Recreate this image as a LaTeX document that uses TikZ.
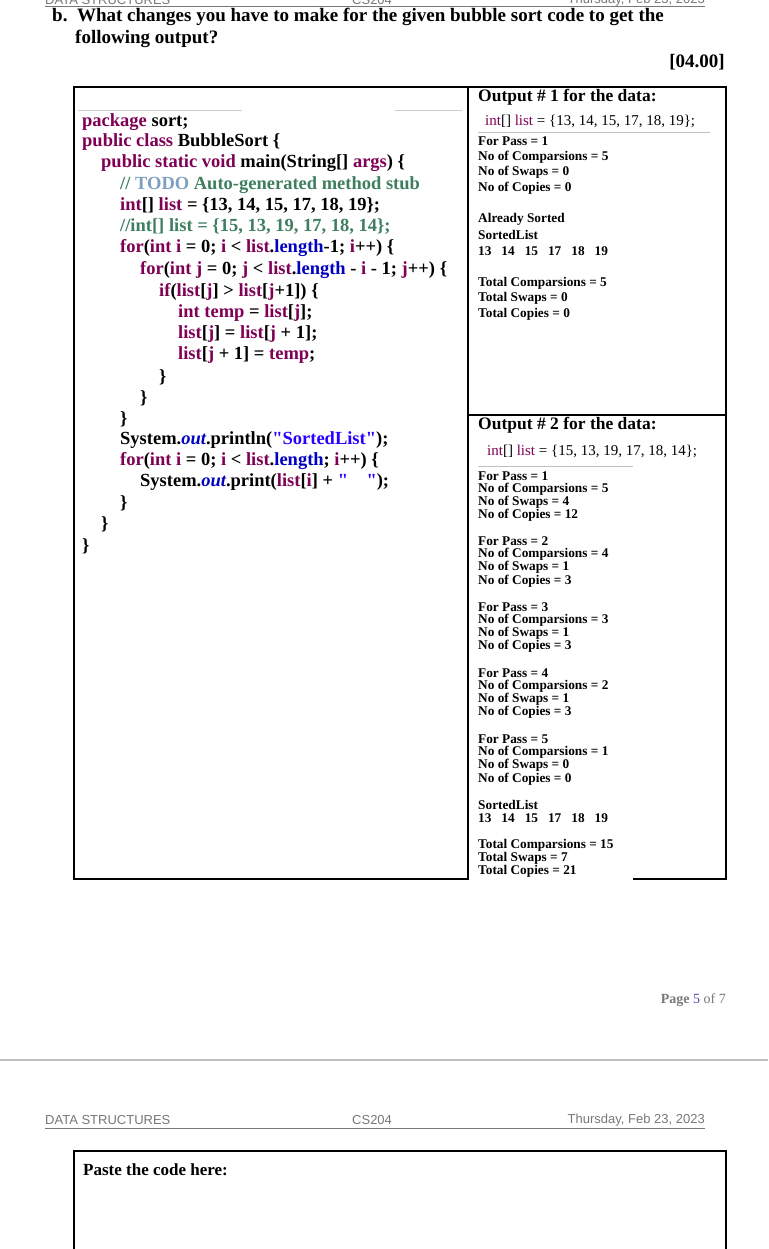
\documentclass[tikz,border=0pt]{standalone}
\usepackage{fontspec}
\setmainfont{Liberation Serif}
\setsansfont{Liberation Sans}
\newfontfamily\qf[Ligatures=ResetAll]{Liberation Serif}
\definecolor{kw}{RGB}{127,0,85}
\definecolor{cm}{RGB}{63,127,95}
\definecolor{td}{RGB}{127,159,191}
\definecolor{bl}{RGB}{0,0,192}
\definecolor{st}{RGB}{42,0,255}
\definecolor{gr}{RGB}{120,120,120}
\newcommand{\K}[1]{\textcolor{kw}{#1}}
\newcommand{\B}[1]{\textcolor{bl}{#1}}
\newcommand{\Q}{{\qf\symbol{34}}}
\begin{document}
\begin{tikzpicture}[x=1pt,y=-1pt,
  code/.style={anchor=west,inner sep=0pt,font=\fontsize{18.5}{20}\selectfont\bfseries},
  sm/.style={anchor=west,inner sep=0pt,font=\fontsize{13.3}{14}\selectfont\bfseries},
  ttl/.style={anchor=west,inner sep=0pt,font=\fontsize{17.5}{19}\selectfont\bfseries},
  frame/.style={draw,line width=1.2pt}]
\useasboundingbox (0,0) rectangle (768,1249);
\fill[white] (0,0) rectangle (768,1249);
% header (cut off)
\begin{scope}
\clip (0,0) rectangle (768,6);
\node[anchor=west,inner sep=0pt,font=\sffamily\fontsize{13}{14}\selectfont,gr] (h1) at (45,0) {DATA STRUCTURES};
\node[anchor=west,inner sep=0pt,font=\sffamily\fontsize{13}{14}\selectfont,gr] (h2) at (352,0) {CS204};
\node[anchor=east,inner sep=0pt,font=\sffamily\fontsize{13}{14}\selectfont,gr] (h3) at (705,0) {Thursday, Feb 23, 2023};
\end{scope}
\draw[gr,line width=0.8pt] (45,6) -- (705,6);
\node[anchor=west,inner sep=0pt,font=\fontsize{19}{21}\selectfont\bfseries] (q1) at (52,17) {b.\ \ What changes you have to make for the given bubble sort code to get the};
\node[anchor=west,inner sep=0pt,font=\fontsize{19}{21}\selectfont\bfseries] (q2) at (75,39) {following output?};
\node[anchor=east,inner sep=0pt,font=\fontsize{19}{21}\selectfont\bfseries] (q3) at (725,62) {[04.00]};
% boxes
\draw[frame] (74,87) rectangle (468,879);
\draw[frame] (468,87) -- (726,87) -- (726,879) -- (633,879);
\draw[frame] (468,415) -- (726,415);
\draw[gray!40,line width=0.6pt] (78,110) -- (242,110);
\draw[gray!40,line width=0.6pt] (395,110) -- (462,110);
% code
\node[code] (c1) at (82,122) {\K{package} sort;};
\node[code] (c2) at (82,142) {\K{public class} BubbleSort \{};
\node[code] (c3) at (101,163) {\K{public static void} main(String[] \K{args}) \{};
\node[code] (c4) at (120,185) {\textcolor{cm}{// }\textcolor{td}{TODO} \textcolor{cm}{Auto-generated method stub}};
\node[code] (c5) at (120,206) {\K{int}[] \K{list} = \{13, 14, 15, 17, 18, 19\};};
\node[code] (c6) at (120,227) {\textcolor{cm}{//int[] list = \{15, 13, 19, 17, 18, 14\};}};
\node[code] (c7) at (120,248) {\K{for}(\K{int i} = 0; \K{i} < \K{list}.\B{length}-1; \K{i}++) \{};
\node[code] (c8) at (140,270) {\K{for}(\K{int j} = 0; \K{j} < \K{list}.\B{length} - \K{i} - 1; \K{j}++) \{};
\node[code] (c9) at (159,292) {\K{if}(\K{list}[\K{j}] > \K{list}[\K{j}+1]) \{};
\node[code] (c10) at (178,313) {\K{int temp} = \K{list}[\K{j}];};
\node[code] (c11) at (178,334) {\K{list}[\K{j}] = \K{list}[\K{j} + 1];};
\node[code] (c12) at (178,355) {\K{list}[\K{j} + 1] = \K{temp};};
\node[code] (c13) at (159,377) {\}};
\node[code] (c14) at (140,398) {\}};
\node[code] (c15) at (120,419) {\}};
\node[code] (c16) at (120,440) {System.\B{\itshape out}.println(\textcolor{st}{\Q SortedList\Q});};
\node[code] (c17) at (120,461) {\K{for}(\K{int i} = 0; \K{i} < \K{list}.\B{length}; \K{i}++) \{};
\node[code] (c18) at (140,482) {System.\B{\itshape out}.print(\K{list}[\K{i}] + \textcolor{st}{\Q\ \ \ \ \Q});};
\node[code] (c19) at (120,503) {\}};
\node[code] (c20) at (101,524) {\}};
\node[code] (c21) at (82,546) {\}};
% output 1
\node[ttl] (o1) at (478,97) {Output \# 1 for the data:};
\node[anchor=west,inner sep=0pt,font=\fontsize{15}{17}\selectfont] (o1l) at (485,121) {\K{int}[] \K{list} = \{13, 14, 15, 17, 18, 19\};};
\draw[gray!50,line width=0.6pt] (478,132) -- (710,132);
\node[sm] (a1) at (478,141) {For Pass = 1};
\node[sm] (a2) at (478,157) {No of Comparsions = 5};
\node[sm] (a3) at (478,172) {No of Swaps = 0};
\node[sm] (a4) at (478,188) {No of Copies = 0};
\node[sm] (a5) at (478,219) {Already Sorted};
\node[sm] (a6) at (478,235) {SortedList};
\node[sm] (a7) at (478,251) {13\hspace{10pt}14\hspace{10pt}15\hspace{10pt}17\hspace{10pt}18\hspace{10pt}19};
\node[sm] (a8) at (478,283) {Total Comparsions = 5};
\node[sm] (a9) at (478,298) {Total Swaps = 0};
\node[sm] (a10) at (478,314) {Total Copies = 0};
% output 2
\node[ttl] (o2) at (478,425) {Output \# 2 for the data:};
\node[anchor=west,inner sep=0pt,font=\fontsize{15}{17}\selectfont] (o2l) at (487,451) {\K{int}[] \K{list} = \{15, 13, 19, 17, 18, 14\};};
\draw[gray!50,line width=0.6pt] (478,466) -- (633,466);
\foreach \y/\t in {476/For Pass = 1,489/No of Comparsions = 5,502/No of Swaps = 4,515/No of Copies = 12,
541/For Pass = 2,554/No of Comparsions = 4,567/No of Swaps = 1,581/No of Copies = 3,
607/For Pass = 3,620/No of Comparsions = 3,633/No of Swaps = 1,646/No of Copies = 3,
673/For Pass = 4,686/No of Comparsions = 2,699/No of Swaps = 1,712/No of Copies = 3,
739/For Pass = 5,752/No of Comparsions = 1,765/No of Swaps = 0,779/No of Copies = 0,
805/SortedList,845/Total Comparsions = 15,858/Total Swaps = 7,871/Total Copies = 21}
  \node[sm] (b\y) at (478,\y) {\t};
\node[sm] (b818) at (478,818) {13\hspace{10pt}14\hspace{10pt}15\hspace{10pt}17\hspace{10pt}18\hspace{10pt}19};
% page number
\node[anchor=east,inner sep=0pt,font=\fontsize{14}{16}\selectfont] (pg) at (726,1000) {\textcolor{gr}{\bfseries Page} \textcolor{gr!60!blue}{5} \textcolor{gr}{of 7}};
\draw[gray!50,line width=1.5pt] (0,1060) -- (768,1060);
% footer
\node[anchor=west,inner sep=0pt,font=\sffamily\fontsize{13}{14}\selectfont,gr] (f1) at (45,1120) {DATA STRUCTURES};
\node[anchor=west,inner sep=0pt,font=\sffamily\fontsize{13}{14}\selectfont,gr] (f2) at (352,1120) {CS204};
\node[anchor=east,inner sep=0pt,font=\sffamily\fontsize{13}{14}\selectfont,gr] (f3) at (705,1120) {Thursday, Feb 23, 2023};
\draw[gr,line width=0.8pt] (45,1128) -- (705,1128);
\draw[frame] (74,1249) -- (74,1151) -- (726,1151) -- (726,1249);
\node[anchor=west,inner sep=0pt,font=\fontsize{17}{19}\selectfont\bfseries] (p) at (83,1170) {Paste the code here:};
\end{tikzpicture}
\end{document}
